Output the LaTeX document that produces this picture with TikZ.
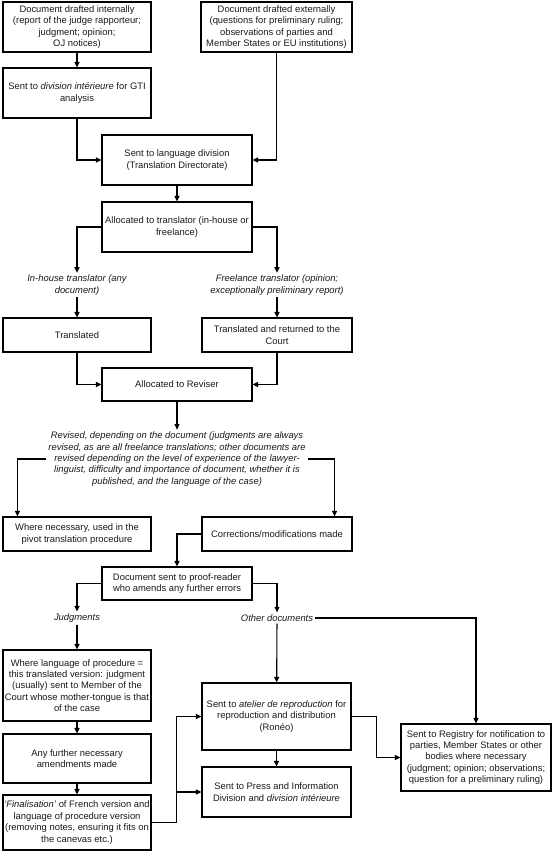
\documentclass[tikz,border=0pt]{standalone}
\usepackage{fontspec}
\setmainfont{Liberation Sans}
\usetikzlibrary{arrows.meta}
\begin{document}
\begin{tikzpicture}[x=1pt,y=-1pt,
  every node/.style={font=\fontsize{9.4}{11.4}\selectfont, align=center, text=black!90},
  box/.style={draw=black, line width=1.1pt, inner sep=1pt},
  wbox/.style={box, minimum width=148pt},
  mbox/.style={box, minimum width=150pt},
  lbl/.style={font=\fontsize{9.4}{11.4}\selectfont\itshape, inner sep=2pt},
  arr/.style={draw=black, line width=1.1pt, -{Triangle[length=5.5pt,width=5pt]}}]
\useasboundingbox (0,0) rectangle (553,853);
% top
\node[wbox, minimum height=50pt] (b1) at (77,27) {Document drafted internally\\(report of the judge rapporteur;\\judgment; opinion;\\OJ notices)};
\node[box, minimum width=151pt, minimum height=50pt] (b2) at (276.5,27) {Document drafted externally\\(questions for preliminary ruling;\\observations of parties and\\Member States or EU institutions)};
\node[wbox, minimum height=50pt] (gti) at (77,93) {Sent to \textit{division intérieure} for GTI\\analysis};
\node[mbox, minimum height=50pt] (lang) at (177,160) {Sent to language division\\(Translation Directorate)};
\node[mbox, minimum height=50pt] (allt) at (177,227) {Allocated to translator (in-house or\\freelance)};
\node[lbl] (inh) at (77,285) {In-house translator (any\\document)};
\node[lbl] (free) at (277,285) {Freelance translator (opinion;\\exceptionally preliminary report)};
\node[wbox, minimum height=34pt] (tr) at (77,335) {Translated};
\node[mbox, minimum height=34pt] (ret) at (277,335) {Translated and returned to the\\Court};
\node[mbox, minimum height=33pt] (rev) at (177,384.5) {Allocated to Reviser};
\node[lbl] (revised) at (177,459) {Revised, depending on the document (judgments are always\\revised, as are all freelance translations; other documents are\\revised depending on the level of experience of the lawyer-\\linguist, difficulty and importance of document, whether it is\\published, and the language of the case)};
\node[wbox, minimum height=34pt] (wn) at (77,534) {Where necessary, used in the\\pivot translation procedure};
\node[mbox, minimum height=34pt] (corr) at (277,534) {Corrections/modifications made};
\node[mbox, minimum height=33pt] (proof) at (177,583.5) {Document sent to proof-reader\\who amends any further errors};
\node[lbl] (judg) at (77,618) {Judgments};
\node[lbl] (other) at (277,618) {Other documents};
\node[wbox, minimum height=71pt] (wl) at (77,685.5) {Where language of procedure =\\this translated version: judgment\\(usually) sent to Member of the\\Court whose mother-tongue is that\\of the case};
\node[wbox, minimum height=49pt] (any) at (77,758.5) {Any further necessary\\amendments made};
\node[wbox, minimum height=55pt] (fin) at (77,822.5) {\textit{`Finalisation'} of French version and\\language of procedure version\\(removing notes, ensuring it fits on\\the canevas etc.)};
\node[box, minimum width=149pt, minimum height=67pt] (atel) at (276.5,716.5) {Sent to \textit{atelier de reproduction} for\\reproduction and distribution\\(Ronéo)};
\node[box, minimum width=149pt, minimum height=50pt] (press) at (276.5,792) {Sent to Press and Information\\Division and \textit{division intérieure}};
\node[mbox, minimum height=67pt] (reg) at (476,757.5) {Sent to Registry for notification to\\parties, Member States or other\\bodies where necessary\\(judgment; opinion; observations;\\question for a preliminary ruling)};
% connectors
\draw[arr] (b1) -- (gti);
\draw[arr] (gti.south) |- (lang.west);
\draw[arr] (b2.south) |- (lang.east);
\draw[arr] (lang) -- (allt);
\draw[arr] (allt.west) -| (inh.north);
\draw[arr] (allt.east) -| (free.north);
\draw[arr] (inh) -- (tr);
\draw[arr] (free) -- (ret);
\draw[arr] (tr.south) |- (rev.west);
\draw[arr] (ret.south) |- (rev.east);
\draw[arr] (rev) -- (revised);
\draw[arr] (revised.west) -| ([xshift=15pt]wn.north west);
\draw[arr] (revised.east) -| ([xshift=-18pt]corr.north east);
\draw[arr] (corr.west) -| (proof.north);
\draw[arr] (proof.west) -| (judg.north);
\draw[arr] (proof.east) -| (other.north);
\draw[arr] (judg) -- (wl);
\draw[arr] (wl) -- (any);
\draw[arr] (any) -- (fin);
\draw[arr] (other) -- (atel);
\draw[arr] (other.east) -| (reg.north);
\draw[arr] (fin.east) -- ++(25,0) |- (atel.west);
\draw[arr] (fin.east) -- ++(25,0) |- (press.west);
\draw[arr] (atel.east) -- ++(25,0) |- (reg.west);
\draw[arr] (atel) -- (press);
\end{tikzpicture}
\end{document}
